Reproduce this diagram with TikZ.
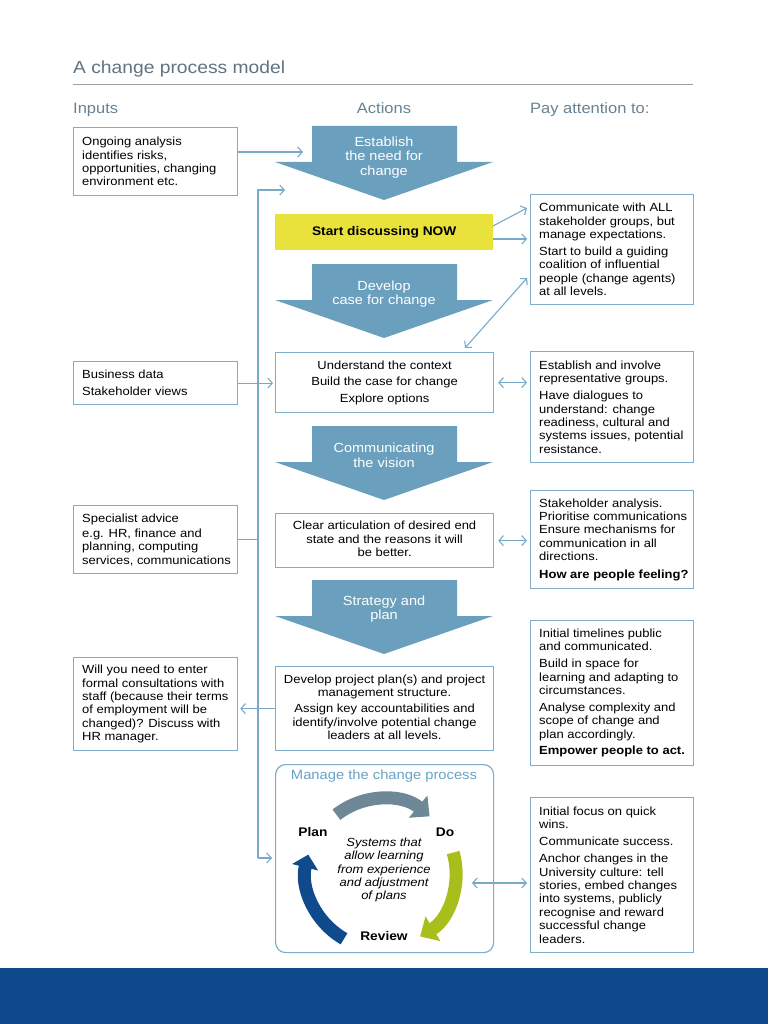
\documentclass[tikz,border=0pt]{standalone}
\usepackage{fontspec}
\setmainfont{Liberation Sans}[FakeStretch=1.1]
\usetikzlibrary{arrows.meta,calc}
\definecolor{titlec}{RGB}{96,116,130}
\definecolor{headc}{RGB}{104,130,148}
\definecolor{rulec}{RGB}{160,160,160}
\definecolor{boxc}{RGB}{128,172,200}
\definecolor{connc}{RGB}{120,170,200}
\definecolor{arrowc}{RGB}{106,160,190}
\definecolor{yellowc}{RGB}{233,226,60}
\definecolor{mtitlec}{RGB}{104,163,199}
\definecolor{cgray}{RGB}{110,136,152}
\definecolor{cgreen}{RGB}{168,190,26}
\definecolor{cblue}{RGB}{14,74,140}
\newcommand\fBody{\fontsize{11.8}{13.4}\selectfont}
\newcommand\fArrow{\fontsize{13.2}{14.8}\selectfont}
\newcommand\fHead{\fontsize{15}{17}\selectfont}
\newcommand\fTitle{\fontsize{17.5}{20}\selectfont}
\newcommand\fLab{\fontsize{12.5}{14}\selectfont\bfseries}
\newcommand\bigarrow[4]{%
  \fill[arrowc] (312,#1) -- (457,#1) -- (457,#1+36) -- (493,#1+36) -- (384,#1+74) -- (275,#1+36) -- (312,#1+36) -- cycle;
  \node[arrtext] (#2) at (384,#1+#4) {#3};}
\begin{document}
\begin{tikzpicture}[x=1pt,y=-1pt,
  box/.style={draw=boxc, line width=1.2pt, inner sep=0pt},
  btext/.style={align=left, inner sep=0pt, font=\fBody, text=black},
  ctext/.style={align=center, inner sep=0pt, font=\fBody, text=black},
  arrtext/.style={align=center, inner sep=0pt, font=\fArrow, text=white},
  conn/.style={draw=connc, line width=1.1pt},
  tip/.style={-{Straight Barb[length=4.5pt,width=10pt]}},
  tipboth/.style={{Straight Barb[length=4.5pt,width=10pt]}-{Straight Barb[length=4.5pt,width=10pt]}},
  head/.style={font=\fHead, text=headc, inner sep=0pt},
  lab/.style={font=\fLab, inner sep=0pt},
  cyc/.style={line width=13pt}
]
\fill[white] (0,0) rectangle (768,1024);
\useasboundingbox (0,0) rectangle (768,1024);

% title
\node[font=\fTitle, text=titlec, anchor=base west, inner sep=0pt] (title) at (73,74) {A change process model};
\draw[rulec, line width=1pt] (73,85) -- (693,85);
\node[head, anchor=base west] (hin) at (73,113.5) {Inputs};
\node[head, anchor=base] (hact) at (384,113.5) {Actions};
\node[head, anchor=base west] (hpay) at (530,113.5) {Pay attention to:};

% big arrows
\bigarrow{126}{ar1}{Establish\\the need for\\change}{31.5}
\bigarrow{264}{ar2}{Develop\\case for change}{30}
\bigarrow{426}{ar3}{Communicating\\the vision}{29}
\bigarrow{580}{ar4}{Strategy and\\plan}{29}

% left boxes
\node[box, minimum width=164, minimum height=68, anchor=north west] (in1) at (73,127) {};
\node[btext, anchor=west] (in1t) at ([xshift=9pt]in1.west) {Ongoing analysis\\identifies risks,\\opportunities, changing\\environment etc.};
\node[box, minimum width=164, minimum height=43, anchor=north west] (in2) at (73,361) {};
\node[btext, anchor=west] (in2t) at ([xshift=9pt]in2.west) {Business data\\[3.5pt]Stakeholder views};
\node[box, minimum width=164, minimum height=68, anchor=north west] (in3) at (73,505) {};
\node[btext, anchor=west] (in3t) at ([xshift=9pt]in3.west) {Specialist advice\\[2pt]e.g. HR, finance and\\planning, computing\\services, communications};
\node[box, minimum width=164, minimum height=93, anchor=north west] (in4) at (73,657) {};
\node[btext, anchor=west] (in4t) at ([xshift=9pt]in4.west) {Will you need to enter\\formal consultations with\\staff (because their terms\\of employment will be\\changed)? Discuss with\\HR manager.};

% centre boxes
\node[fill=yellowc, inner sep=0pt, minimum width=218, minimum height=36, anchor=north west] (c0) at (275,214) {};
\node[font=\fLab, inner sep=0pt] (c0t) at (c0.center) {Start discussing NOW};
\node[box, minimum width=218, minimum height=60, anchor=north west] (c1) at (275,352) {};
\node[ctext] (c1t) at (c1.center) {Understand the context\\[3pt]Build the case for change\\[3pt]Explore options};
\node[box, minimum width=218, minimum height=54, anchor=north west] (c2) at (275,513) {};
\node[ctext] (c2t) at ([yshift=1.5pt]c2.center) {Clear articulation of desired end\\state and the reasons it will\\be better.};
\node[box, minimum width=218, minimum height=84, anchor=north west] (c3) at (275,666) {};
\node[ctext] (c3t) at ([yshift=1.5pt]c3.center) {Develop project plan(s) and project\\management structure.\\[3pt]Assign key accountabilities and\\identify/involve potential change\\leaders at all levels.};
\node[box, rounded corners=10pt, minimum width=218, minimum height=188, anchor=north west] (mbox) at (275,764) {};
\node[font=\fontsize{13.4}{15}\selectfont, text=mtitlec, inner sep=0pt] (mtitle) at (384,776) {Manage the change process};

% right boxes
\node[box, minimum width=163, minimum height=110, anchor=north west] (r1) at (530,194) {};
\node[btext, anchor=west] (r1t) at ([xshift=9pt]r1.west) {Communicate with ALL\\stakeholder groups, but\\manage expectations.\\[3.5pt]Start to build a guiding\\coalition of influential\\people (change agents)\\at all levels.};
\node[box, minimum width=163, minimum height=111, anchor=north west] (r2) at (530,351) {};
\node[btext, anchor=west] (r2t) at ([xshift=9pt]r2.west) {Establish and involve\\representative groups.\\[3.5pt]Have dialogues to\\understand: change\\readiness, cultural and\\systems issues, potential\\resistance.};
\node[box, minimum width=163, minimum height=98, anchor=north west] (r3) at (530,490) {};
\node[btext, anchor=west] (r3t) at ([xshift=9pt]r3.west) {Stakeholder analysis.\\Prioritise communications\\Ensure mechanisms for\\communication in all\\directions.\\[4pt]\textbf{How are people feeling?}};
\node[box, minimum width=163, minimum height=145, anchor=north west] (r4) at (530,620) {};
\node[btext, anchor=west] (r4t) at ([xshift=9pt]r4.west) {Initial timelines public\\and communicated.\\[3.5pt]Build in space for\\learning and adapting to\\circumstances.\\[3.5pt]Analyse complexity and\\scope of change and\\plan accordingly.\\[3pt]\textbf{Empower people to act.}};
\node[box, minimum width=163, minimum height=155, anchor=north west] (r5) at (530,797) {};
\node[btext, anchor=west] (r5t) at ([xshift=9pt]r5.west) {Initial focus on quick\\wins.\\[3.5pt]Communicate success.\\[3.5pt]Anchor changes in the\\University culture: tell\\stories, embed changes\\into systems, publicly\\recognise and reward\\successful change\\leaders.};

% cycle
\coordinate (cc) at (382,873);
\draw[cyc, cgray, -{Triangle[length=15pt,width=28pt]}] ($(cc)+(-128:74)$) arc[start angle=-128, end angle=-50, radius=74];
\draw[cyc, cgreen, -{Triangle[length=15pt,width=28pt]}] ($(cc)+(-16:74)$) arc[start angle=-16, end angle=59, radius=74];
\draw[cyc, cblue, -{Triangle[length=13pt,width=26pt]}] ($(cc)+(120:76)$) arc[start angle=120, end angle=194, radius=76];
\node[lab] (plan) at (313,832) {Plan};
\node[lab] (do) at (445,832) {Do};
\node[lab] (review) at (384,936) {Review};
\node[ctext, font=\fBody\itshape] (sys) at (384,870) {Systems that\\allow learning\\from experience\\and adjustment\\of plans};

% connectors
\coordinate (a1L) at (303,152);
\draw[conn, tip] (in1.east |- a1L) -- (a1L);
\coordinate (spT) at (258,190);
\coordinate (spTa) at (285,190);
\coordinate (spB) at (258,858);
\draw[conn, tip] (spB) -- (spT) -- (spTa);
\draw[conn, tip, shorten >=3pt] (spB) -- (mbox.west |- spB);
\draw[conn, tip, shorten >=2pt] (in2.east) -- (in2.east -| c1.west);
\draw[conn] (in3.east) -- (in3.east -| spT);
\draw[conn, tip, shorten >=2pt] (c3.west) -- (c3.west -| in4.east);
\coordinate (y1) at (493,226);
\coordinate (r1a) at (527,208);
\coordinate (r1b) at (527,239);
\draw[conn, tip] (y1) -- (r1a);
\draw[conn, tip] (c0.east |- r1b) -- (r1b);
\coordinate (d1) at (465,348);
\coordinate (d2) at (527,278);
\draw[conn, tipboth] (d1) -- (d2);
\draw[conn, tipboth, shorten <=4pt, shorten >=3pt] (c1.east) -- (c1.east -| r2.west);
\draw[conn, tipboth, shorten <=4pt, shorten >=3pt] (c2.east) -- (c2.east -| r3.west);
\coordinate (mr) at (472,883);
\draw[conn, tipboth, shorten >=3pt] (mr) -- (mr -| r5.west);

% bottom band
\fill[cblue] (0,968) rectangle (768,1024);
\end{tikzpicture}
\end{document}
